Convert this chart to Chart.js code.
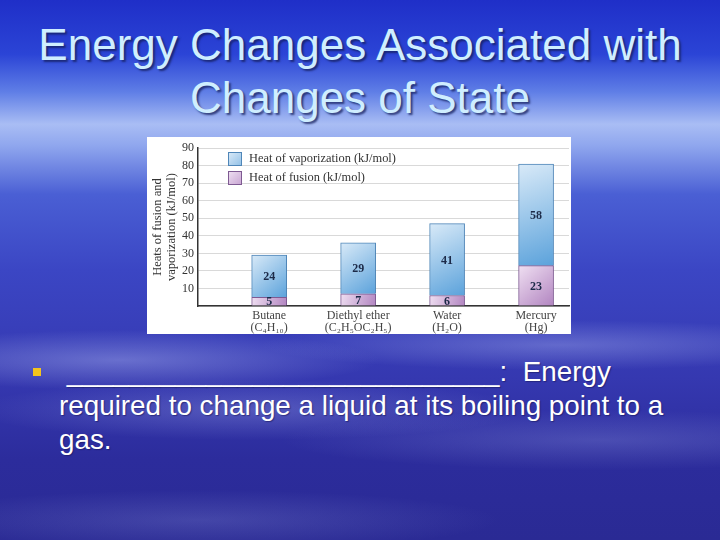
<!DOCTYPE html>
<html>
<head>
<meta charset="utf-8">
<script src="https://cdn.jsdelivr.net/npm/chart.js@4/dist/chart.umd.min.js"></script>
<style>
  html, body { margin: 0; padding: 0; }
  body {
    width: 720px; height: 540px; overflow: hidden; position: relative;
    font-family: "Liberation Sans", Arial, sans-serif;
    background:
      radial-gradient(ellipse 260px 30px at 120px 360px, rgba(200,210,255,0.35), rgba(200,210,255,0) 100%),
      radial-gradient(ellipse 300px 25px at 560px 345px, rgba(200,210,255,0.3), rgba(200,210,255,0) 100%),
      radial-gradient(ellipse 280px 30px at 250px 410px, rgba(190,200,250,0.25), rgba(190,200,250,0) 100%),
      radial-gradient(ellipse 320px 30px at 600px 440px, rgba(190,200,250,0.2), rgba(190,200,250,0) 100%),
      radial-gradient(ellipse 300px 30px at 200px 520px, rgba(170,180,240,0.2), rgba(170,180,240,0) 100%),
      linear-gradient(180deg, #1f2fc8 0%, #2b44d6 10%, #5f7ee6 17%, #a9bdf4 23%, #8fa6ee 27%, #4a5fd4 36%, #3b46c4 50%, #3538b0 70%, #2c2c9c 85%, #2a2a94 100%);
  }
  .title {
    position: absolute; left: 0; width: 720px; text-align: center;
    color: #cfeeff; font-size: 44px; line-height: 53px;
    text-shadow: 2px 2px 2px rgba(20,30,90,0.75);
  }
  #box {
    position: absolute; left: 147px; top: 137px; width: 424px; height: 197px;
    background: #ffffff;
  }
  .bullet {
    position: absolute; left: 33px; top: 368px; width: 8px; height: 8px;
    background: #f4c41c;
  }
  .body-text {
    position: absolute; left: 59px; top: 355px; width: 650px;
    color: #ffffff; font-size: 27.8px; line-height: 34px;
    text-shadow: 1px 1px 1px rgba(20,20,80,0.5);
  }
</style>
</head>
<body>
<div class="title" style="top:18px">Energy Changes Associated with</div>
<div class="title" style="top:71px">Changes of State</div>
<div id="box"><canvas id="chart" width="424" height="197"></canvas></div>
<div class="bullet"></div>
<div class="body-text">&nbsp;____________________________:&nbsp; Energy<br>required to change a liquid at its boiling point to a<br>gas.</div>

<script>
const names = ["Butane", "Diethyl ether", "Water", "Mercury"];
const formulas = ["(C\u2084H\u2081\u2080)", "(C\u2082H\u2085OC\u2082H\u2085)", "(H\u2082O)", "(Hg)"];
const fusion = [5, 7, 6, 23];
const vaporization = [24, 29, 41, 58];
const yTicks = [10, 20, 30, 40, 50, 60, 70, 80, 90];

const serif = "'Liberation Serif', 'DejaVu Serif', serif";

function barGradient(context, low, high, c1, c2, fallback) {
    const chart = context.chart;
    if (!chart.chartArea || context.dataIndex === undefined) return fallback;
    const i = context.dataIndex;
    const cx = chart.scales.x.getPixelForValue(i + 1);
    const yTop = chart.scales.y.getPixelForValue(high[i]);
    const yBot = chart.scales.y.getPixelForValue(low[i]);
    const g = chart.ctx.createLinearGradient(cx - 18, yTop, cx + 18, yBot);
    g.addColorStop(0, c1);
    g.addColorStop(1, c2);
    return g;
}

const totals = fusion.map((f, i) => f + vaporization[i]);
const zeros = fusion.map(() => 0);

// value labels in the middle of each segment
const segmentLabels = {
    id: "segmentLabels",
    afterDatasetsDraw(chart) {
        const ctx = chart.ctx;
        ctx.save();
        ctx.font = "bold 12px " + serif;
        ctx.fillStyle = "#1c2a48";
        ctx.textAlign = "center";
        ctx.textBaseline = "middle";
        chart.data.datasets.forEach((ds, di) => {
            chart.getDatasetMeta(di).data.forEach((bar, i) => {
                ctx.fillText(ds.data[i].y, bar.x, (bar.y + bar.base) / 2 + 1);
            });
        });
        ctx.restore();
    }
};

// legend drawn inside the plot area, top left
const innerLegend = {
    id: "innerLegend",
    afterDraw(chart) {
        const ctx = chart.ctx;
        const x = chart.chartArea.left + 30;
        const items = [
            { text: "Heat of vaporization (kJ/mol)", fill: ["#dcebf8", "#8fbfe6"], stroke: "#4f86b8" },
            { text: "Heat of fusion (kJ/mol)", fill: ["#f0e2f2", "#c7a3d2"], stroke: "#7e5a92" }
        ];
        ctx.save();
        items.forEach((it, k) => {
            const y = 15 + k * 19;
            const g = ctx.createLinearGradient(x, y, x + 14, y + 14);
            g.addColorStop(0, it.fill[0]);
            g.addColorStop(1, it.fill[1]);
            ctx.fillStyle = g;
            ctx.fillRect(x, y, 14, 14);
            ctx.strokeStyle = it.stroke;
            ctx.lineWidth = 1;
            ctx.strokeRect(x + 0.5, y + 0.5, 13, 13);
            ctx.fillStyle = "#333333";
            ctx.font = "12.4px " + serif;
            ctx.textBaseline = "middle";
            ctx.fillText(it.text, x + 21, y + 7);
        });
        ctx.restore();
    }
};

new Chart(document.getElementById("chart"), {
    type: "bar",
    data: {
        datasets: [
            {
                label: "Heat of fusion (kJ/mol)",
                data: fusion.map((v, i) => ({ x: i + 1, y: v })),
                backgroundColor: (c) => barGradient(c, zeros, fusion, "#f0e0f2", "#b184c0", "#d4b6dc"),
                borderColor: "#7e5a92",
                borderWidth: 1,
                barThickness: 35,
            },
            {
                label: "Heat of vaporization (kJ/mol)",
                data: vaporization.map((v, i) => ({ x: i + 1, y: v })),
                backgroundColor: (c) => barGradient(c, fusion, totals, "#d9eaf8", "#5ba2db", "#98c6ec"),
                borderColor: "#4f86b8",
                borderWidth: 1,
                barThickness: 35,
            },
        ],
    },
    options: {
        responsive: false,
        animation: false,
        layout: { padding: { top: 10, right: 2, left: 0, bottom: 0 } },
        plugins: {
            legend: { display: false },
            tooltip: { enabled: false },
        },
        scales: {
            x: {
                type: "linear",
                stacked: true,
                offset: false,
                min: 0.2,
                max: 4.37,
                afterBuildTicks: (scale) => {
                    scale.ticks = names.map((n, i) => ({ value: i + 1 }));
                },
                afterFit: (scale) => { scale.height = 28; },
                grid: { display: false, drawTicks: false },
                border: { display: true, color: "#333333", width: 1.5 },
                ticks: {
                    autoSkip: false,
                    maxRotation: 0,
                    padding: 4,
                    color: "#444444",
                    font: { family: serif, size: 12, lineHeight: 1.0 },
                    callback: (v) => [names[v - 1], formulas[v - 1]],
                },
            },
            y: {
                stacked: true,
                min: 0,
                max: 90,
                afterBuildTicks: (scale) => {
                    scale.ticks = [0].concat(yTicks).map((v) => ({ value: v }));
                },
                afterFit: (scale) => { scale.width = 51; },
                grid: { color: "#d9d9d9", drawTicks: false },
                border: { display: true, color: "#333333", width: 1.5 },
                ticks: {
                    padding: 4,
                    color: "#333333",
                    font: { family: serif, size: 12 },
                    callback: (v) => (v === 0 ? "" : v),
                },
                title: {
                    display: true,
                    text: ["Heats of fusion and", "vaporization (kJ/mol)"],
                    color: "#333333",
                    font: { family: serif, size: 12.5, lineHeight: 1.1 },
                    padding: { top: 4, bottom: 0 },
                },
            },
        },
    },
    plugins: [segmentLabels, innerLegend],
});
</script>
</body>
</html>
